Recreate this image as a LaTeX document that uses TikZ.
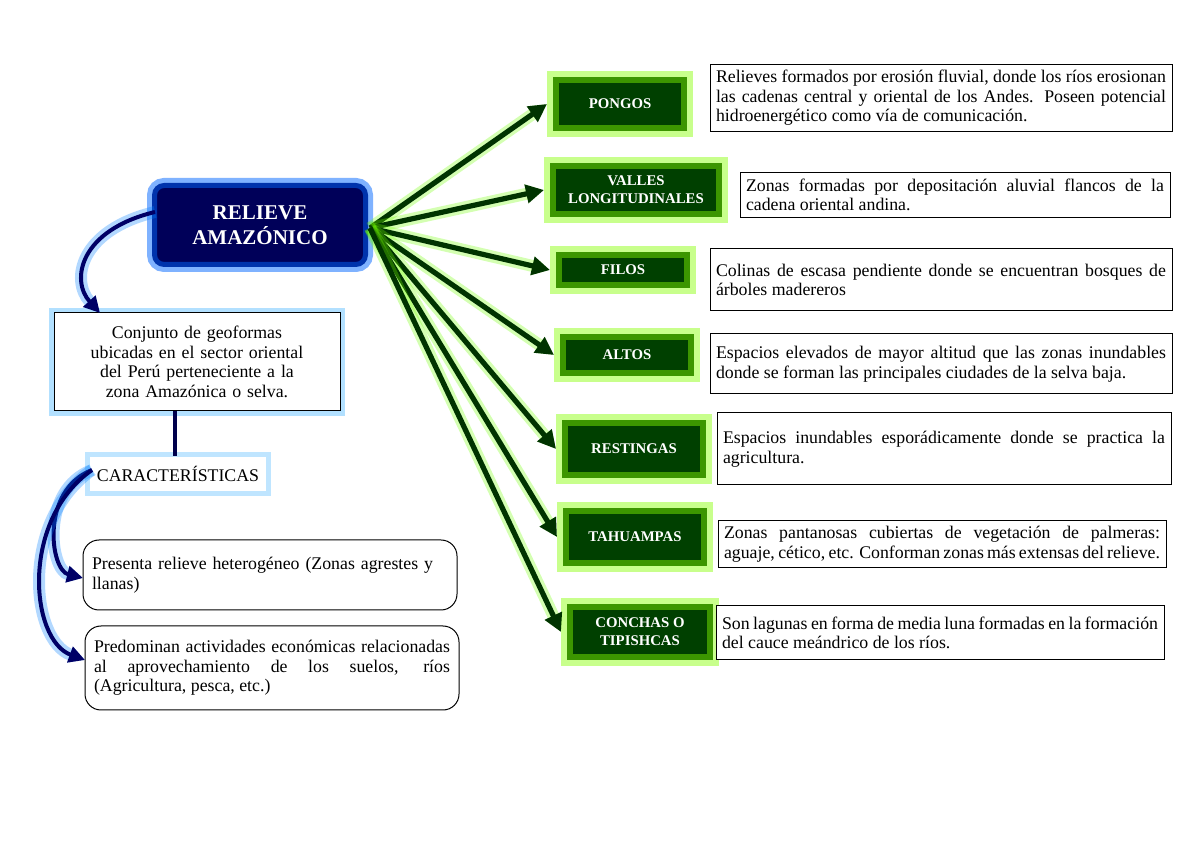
\documentclass[tikz,border=0pt]{standalone}
\usepackage{fontspec}
\setmainfont{Liberation Serif}
\usetikzlibrary{arrows.meta}
\hyphenpenalty=10000 \exhyphenpenalty=10000
\begin{document}
\begin{tikzpicture}[x=0.5pt,y=-0.5pt,
 gbox/.style={draw=lime!70!green,draw opacity=.45,line width=6pt,fill=green!25!black,text=white,font=\fontsize{7.4}{9}\selectfont\bfseries,align=center,inner sep=0pt},
 dbox/.style={draw=black,line width=0.5pt,fill=white,font=\fontsize{8.9}{9.8}\selectfont,align=justify,inner sep=3pt},
 gar/.style={green!20!black,line width=2.6pt,-{Triangle[length=9pt,width=9pt]},preaction={draw=lime!60!green,opacity=.3,line width=6pt}},
 bar/.style={blue!40!black,line width=2pt,-{Triangle[length=8pt,width=8pt]},preaction={draw=blue!50!cyan,opacity=.3,line width=6pt}}]
\useasboundingbox (0,0) rectangle (1200,849);
\fill[white] (0,0) rectangle (1200,849);
% main
\node[draw=blue!60!cyan,draw opacity=.5,line width=5pt,fill=blue!35!black,rounded corners=6pt,minimum width=108pt,minimum height=42pt,text=white,font=\fontsize{10.5}{12.5}\selectfont\bfseries,align=center] (ra) at (260,225) {RELIEVE\\AMAZÓNICO};
\node[dbox,draw=black,preaction={draw=blue!40!cyan,line width=5pt,opacity=.3},minimum width=143pt,minimum height=49pt,text width=136pt,align=center] (conj) at (197,362) {Conjunto de geoformas ubicadas en el sector oriental del Perú perteneciente a la zona Amazónica o selva.};
\node[dbox,draw=none,preaction={draw=blue!40!cyan,line width=5pt,opacity=.25},minimum width=88pt,minimum height=17pt,align=center] (car) at (178,474) {CARACTERÍSTICAS};
\node[dbox,rounded corners=8pt,minimum width=187pt,minimum height=35pt,text width=178pt,align=left] (p1) at (270,575) {Presenta relieve heterogéneo (Zonas agrestes y llanas)};
\node[dbox,rounded corners=8pt,minimum width=187pt,minimum height=42pt,text width=178pt] (p2) at (272,668) {Predominan actividades económicas relacionadas al aprovechamiento de los suelos, ríos (Agricultura, pesca, etc.)};
\draw[bar] (155,212) .. controls (80,230) and (70,280) .. (100,313);
\draw[blue!30!black,line width=2pt] (conj.south -| 175,0) -- (car.north -| 175,0);
\draw[bar] (92,470) .. controls (40,490) and (50,570) .. (83,578);
\draw[bar] (92,470) .. controls (20,520) and (30,640) .. (85,660);
% green boxes
\foreach \n/\x/\y/\w/\h/\t in {a/620/104/67/27/PONGOS, b/636/190/86/27/VALLES\\LONGITUDINALES, c/623/270/67/18/FILOS, d/627/355/67/21/ALTOS, e/634/449/72/29/RESTINGAS, f/635/537/72/29/TAHUAMPAS, g/640/632/73/28/CONCHAS O\\TIPISHCAS}
 \node[gbox,minimum width=\w pt,minimum height=\h pt] (g\n) at (\x,\y) {\t};
\coordinate (s) at (370,228);
\foreach \n in {a,b,c,d,e,f,g} \draw[gar] (s) -- (g\n.west);
% descriptions
\node[dbox,text width=225pt] (da) at (941,98) {Relieves formados por erosión fluvial, donde los ríos erosionan las cadenas central y oriental de los Andes. Poseen potencial hidroenergético como vía de comunicación.};
\node[dbox,text width=209pt] (db) at (955,195) {Zonas formadas por depositación aluvial flancos de la cadena oriental andina.};
\node[dbox,text width=225pt,minimum height=31pt] (dc) at (941,280) {Colinas de escasa pendiente donde se encuentran bosques de árboles madereros};
\node[dbox,text width=225pt,minimum height=30pt] (dd) at (941,364) {Espacios elevados de mayor altitud que las zonas inundables donde se forman las principales ciudades de la selva baja.};
\node[dbox,text width=221pt,minimum height=36pt] (de) at (944,449) {Espacios inundables esporádicamente donde se practica la agricultura.};
\node[dbox,text width=218pt] (df) at (942,544) {Zonas pantanosas cubiertas de vegetación de palmeras: aguaje, cético, etc. Conforman zonas más extensas del relieve.};
\node[dbox,text width=218pt,minimum height=27pt] (dg) at (940,633) {Son lagunas en forma de media luna formadas en la formación del cauce meándrico de los ríos.};
\end{tikzpicture}
\end{document}
